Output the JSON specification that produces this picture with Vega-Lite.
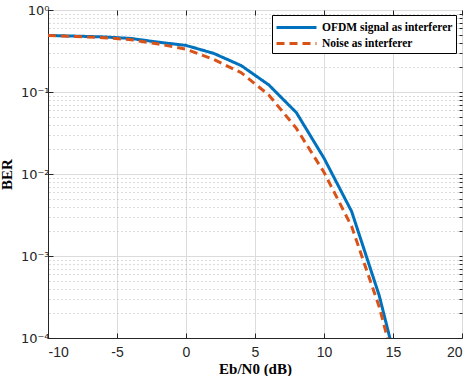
{
  "$schema": "https://vega.github.io/schema/vega-lite/v6.json",
  "width": 414,
  "height": 328,
  "autosize": "none",
  "padding": {"left": 48, "top": 10, "right": 12, "bottom": 38},
  "background": "white",
  "config": {
    "view": {"stroke": "#262626", "strokeWidth": 1},
    "axis": {
      "domainColor": "#262626",
      "tickColor": "#262626",
      "labelColor": "#262626",
      "labelFont": "Liberation Sans",
      "labelFontSize": 14,
      "titleFont": "Liberation Serif",
      "titleFontSize": 15,
      "titleFontWeight": "bold",
      "titleColor": "black"
    },
    "legend": {
      "orient": "none",
      "legendX": 224,
      "legendY": 5,
      "strokeColor": "black",
      "fillColor": "white",
      "padding": 3,
      "cornerRadius": 0,
      "labelFont": "Liberation Serif",
      "labelFontSize": 11.5,
      "labelFontWeight": "bold",
      "labelColor": "black",
      "symbolType": "M-2.5,0H2.5",
      "symbolSize": 256,
      "symbolOffset": 12,
      "symbolStrokeWidth": 3,
      "rowPadding": 0,
      "labelOffset": 16
    }
  },
  "data": {
    "values": [
      {"ebn0": -10, "ber": 0.49, "series": "OFDM signal as interferer"},
      {"ebn0": -8, "ber": 0.48, "series": "OFDM signal as interferer"},
      {"ebn0": -6, "ber": 0.47, "series": "OFDM signal as interferer"},
      {"ebn0": -4, "ber": 0.45, "series": "OFDM signal as interferer"},
      {"ebn0": -2, "ber": 0.405, "series": "OFDM signal as interferer"},
      {"ebn0": 0, "ber": 0.37, "series": "OFDM signal as interferer"},
      {"ebn0": 2, "ber": 0.296, "series": "OFDM signal as interferer"},
      {"ebn0": 4, "ber": 0.21, "series": "OFDM signal as interferer"},
      {"ebn0": 6, "ber": 0.122, "series": "OFDM signal as interferer"},
      {"ebn0": 8, "ber": 0.056, "series": "OFDM signal as interferer"},
      {"ebn0": 10, "ber": 0.0156, "series": "OFDM signal as interferer"},
      {"ebn0": 12, "ber": 0.0035, "series": "OFDM signal as interferer"},
      {"ebn0": 14, "ber": 0.00033, "series": "OFDM signal as interferer"},
      {"ebn0": 16, "ber": 0.000015, "series": "OFDM signal as interferer"},
      {"ebn0": -10, "ber": 0.49, "series": "Noise as interferer"},
      {"ebn0": -8, "ber": 0.475, "series": "Noise as interferer"},
      {"ebn0": -6, "ber": 0.46, "series": "Noise as interferer"},
      {"ebn0": -4, "ber": 0.435, "series": "Noise as interferer"},
      {"ebn0": -2, "ber": 0.385, "series": "Noise as interferer"},
      {"ebn0": 0, "ber": 0.332, "series": "Noise as interferer"},
      {"ebn0": 2, "ber": 0.25, "series": "Noise as interferer"},
      {"ebn0": 4, "ber": 0.172, "series": "Noise as interferer"},
      {"ebn0": 6, "ber": 0.092, "series": "Noise as interferer"},
      {"ebn0": 8, "ber": 0.036, "series": "Noise as interferer"},
      {"ebn0": 10, "ber": 0.0105, "series": "Noise as interferer"},
      {"ebn0": 12, "ber": 0.0023, "series": "Noise as interferer"},
      {"ebn0": 14, "ber": 0.00024, "series": "Noise as interferer"},
      {"ebn0": 16, "ber": 0.000013, "series": "Noise as interferer"}
    ]
  },
  "resolve": {"axis": {"x": "independent", "y": "independent"}},
  "layer": [
    {
      "mark": {"type": "point", "opacity": 0},
      "encoding": {
        "x": {
          "field": "ebn0", "type": "quantitative",
          "scale": {"domain": [-10, 20], "nice": false, "zero": false},
          "axis": {"orient": "top", "values": [-10, -5, 0, 5, 10, 15, 20], "labels": false, "title": null, "grid": false, "domain": false, "tickSize": -5}
        },
        "y": {
          "field": "ber", "type": "quantitative",
          "scale": {"type": "log", "domain": [0.0001, 1], "nice": false},
          "axis": {
            "orient": "right",
            "values": [0.0002, 0.0003, 0.0004, 0.0005, 0.0006, 0.0007, 0.0008, 0.0009, 0.001, 0.002, 0.003, 0.004, 0.005, 0.006, 0.007, 0.008, 0.009, 0.01, 0.02, 0.03, 0.04, 0.05, 0.06, 0.07, 0.08, 0.09, 0.1, 0.2, 0.3, 0.4, 0.5, 0.6, 0.7, 0.8, 0.9],
            "labels": false, "title": null, "domain": false,
            "grid": true, "gridDash": [1, 3], "gridColor": "#b8b8b8", "gridWidth": 1,
            "tickSize": -3
          }
        }
      }
    },
    {
      "mark": {"type": "line", "clip": true, "strokeWidth": 3},
      "encoding": {
        "x": {
          "field": "ebn0", "type": "quantitative",
          "scale": {"domain": [-10, 20], "nice": false, "zero": false},
          "axis": {"orient": "bottom", "values": [-10, -5, 0, 5, 10, 15, 20], "labelExpr": "replace(datum.label, '−', '-')", "title": "Eb/N0 (dB)", "grid": true, "gridColor": "#dcdcdc", "gridWidth": 1, "tickSize": -5, "labelPadding": 12, "titlePadding": 2}
        },
        "y": {
          "field": "ber", "type": "quantitative",
          "scale": {"type": "log", "domain": [0.0001, 1], "nice": false},
          "axis": {
            "orient": "left",
            "values": [0.0001, 0.001, 0.01, 0.1, 1],
            "labelExpr": "'10' + ['⁰','⁻¹','⁻²','⁻³','⁻⁴'][round(-log(datum.value)/LN10)]",
            "labelFont": "DejaVu Sans",
            "labelFontSize": 13,
            "title": "BER", "titleX": -34, "grid": true, "gridColor": "#dcdcdc", "gridWidth": 1, "tickSize": -5, "labelPadding": 4
          }
        },
        "color": {
          "field": "series", "type": "nominal",
          "scale": {"domain": ["OFDM signal as interferer", "Noise as interferer"], "range": ["#0072BD", "#D95319"]},
          "legend": {"title": null}
        },
        "strokeDash": {
          "field": "series", "type": "nominal",
          "scale": {"domain": ["OFDM signal as interferer", "Noise as interferer"], "range": [[1, 0], [8, 5]]},
          "legend": {"title": null}
        }
      }
    }
  ]
}
